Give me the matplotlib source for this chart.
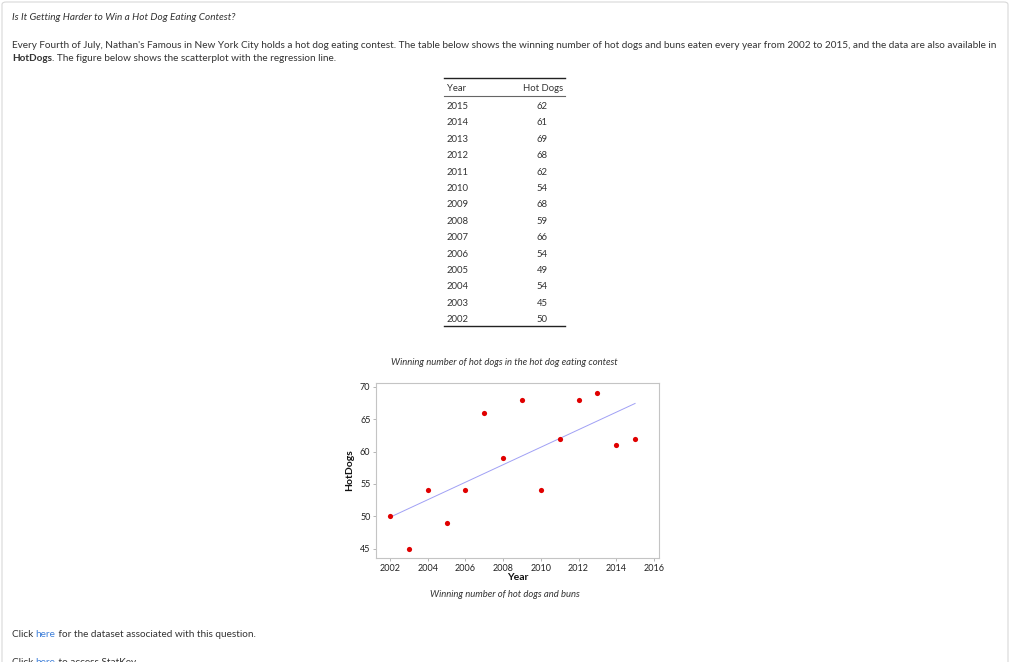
import numpy as np
import matplotlib.pyplot as plt
from matplotlib.patches import FancyBboxPatch
from matplotlib.lines import Line2D

plt.rcParams['font.family'] = ['Lato', 'DejaVu Sans']

years = [2015, 2014, 2013, 2012, 2011, 2010, 2009, 2008, 2007, 2006, 2005, 2004, 2003, 2002]
hot_dogs = [62, 61, 69, 68, 62, 54, 68, 59, 66, 54, 49, 54, 45, 50]
xticks = [2002, 2004, 2006, 2008, 2010, 2012, 2014, 2016]
yticks = [45, 50, 55, 60, 65, 70]

W, H = 1024, 662
fig = plt.figure(figsize=(W / 100, H / 100), dpi=100)
fig.patch.set_facecolor('white')


def fx(px):
    return px / W


def fy(py):
    return 1 - py / H


def run_text(x, y, pieces, size):
    # draw a line made of several styled pieces, one after the other
    r = fig.canvas.get_renderer()
    for s, kw in pieces:
        fig.text(fx(x), fy(y), s, fontsize=size, va='baseline', ha='left', **kw)
        # measure with a bar on each side so edge spaces count right
        t1 = fig.text(0, 0, '|' + s + '|', fontsize=size, **kw)
        t2 = fig.text(0, 0, '||', fontsize=size, **kw)
        x += t1.get_window_extent(renderer=r).width - t2.get_window_extent(renderer=r).width
        t1.remove()
        t2.remove()


# page box, kept behind everything
box = FancyBboxPatch((fx(2), fy(661 + 20)), fx(1006), (661 + 20 - 2) / H,
                     boxstyle='round,pad=0,rounding_size=0.004', transform=fig.transFigure,
                     fc='white', ec='#d8d8d8', lw=0.8, zorder=-5)
fig.patches.append(box)

txt = '#333333'
fig.text(fx(12), fy(20), 'Is It Getting Harder to Win a Hot Dog Eating Contest?',
         fontsize=7.2, style='italic', color=txt, va='baseline')
fig.text(fx(12), fy(48), "Every Fourth of July, Nathan's Famous in New York City holds a hot dog eating contest. "
         "The table below shows the winning number of hot dogs and buns eaten every year from 2002 to 2015, "
         "and the data are also available in", fontsize=7.2, color=txt, va='baseline')
run_text(12, 61, [('HotDogs', dict(weight='bold', color=txt)),
                  ('. The figure below shows the scatterplot with the regression line.', dict(color=txt))], 7.2)

# table
tl, tr = 444, 565
fig.add_artist(Line2D([fx(tl), fx(tr)], [fy(78), fy(78)], color='#222222', lw=1.0))
fig.add_artist(Line2D([fx(tl), fx(tr)], [fy(96), fy(96)], color='#666666', lw=0.8))
fig.add_artist(Line2D([fx(tl), fx(tr)], [fy(326), fy(326)], color='#222222', lw=1.0))
fig.text(fx(447), fy(91), 'Year', fontsize=6.8, color=txt, va='baseline')
fig.text(fx(563), fy(91), 'Hot Dogs', fontsize=6.8, color=txt, va='baseline', ha='right')
for i, (yr, hd) in enumerate(zip(years, hot_dogs)):
    yb = 109 + i * 16.4
    fig.text(fx(447), fy(yb), str(yr), fontsize=6.8, color=txt, va='baseline')
    fig.text(fx(542), fy(yb), str(hd), fontsize=6.8, color=txt, va='baseline', ha='center')

# scatter plot
ax = fig.add_axes([fx(376), fy(558), fx(659 - 376), (558 - 383) / H])
ax.set_facecolor('white')
yr_arr = np.array(years)
hd_arr = np.array(hot_dogs)
ax.scatter(yr_arr, hd_arr, s=14, color='#e00000', zorder=3, linewidths=0)
b, a = np.polyfit(yr_arr, hd_arr, 1)
xl = np.array([yr_arr.min(), yr_arr.max()])
ax.plot(xl, a + b * xl, color='#a0a0f5', lw=0.7)
ax.set_xlim(2001.25, 2016.27)
ax.set_ylim(43.6, 70.55)
ax.set_xticks(xticks)
ax.set_yticks(yticks)
ax.tick_params(labelsize=6.5, length=2, width=0.5, color='#999999', labelcolor='#222222', pad=2)
for sp in ax.spines.values():
    sp.set_color('#c4c4c4')
    sp.set_linewidth(0.8)
ax.set_xlabel('Year', fontsize=7.5, weight='bold', color='#111111', labelpad=0)
ax.set_ylabel('HotDogs', fontsize=7.5, weight='bold', color='#111111', labelpad=4)

fig.text(fx(504), fy(365), 'Winning number of hot dogs in the hot dog eating contest',
         fontsize=6.8, style='italic', color=txt, va='baseline', ha='center')
fig.text(fx(505), fy(597), 'Winning number of hot dogs and buns',
         fontsize=6.8, style='italic', color=txt, va='baseline', ha='center')

link = '#3d7fd9'
run_text(12, 637, [('Click ', dict(color=txt)), ('here', dict(color=link)),
                   (' for the dataset associated with this question.', dict(color=txt))], 7.2)
run_text(12, 665, [('Click ', dict(color=txt)), ('here', dict(color=link)),
                   (' to access StatKey.', dict(color=txt))], 7.2)

fig.savefig('out.png', dpi=100, facecolor='white')
